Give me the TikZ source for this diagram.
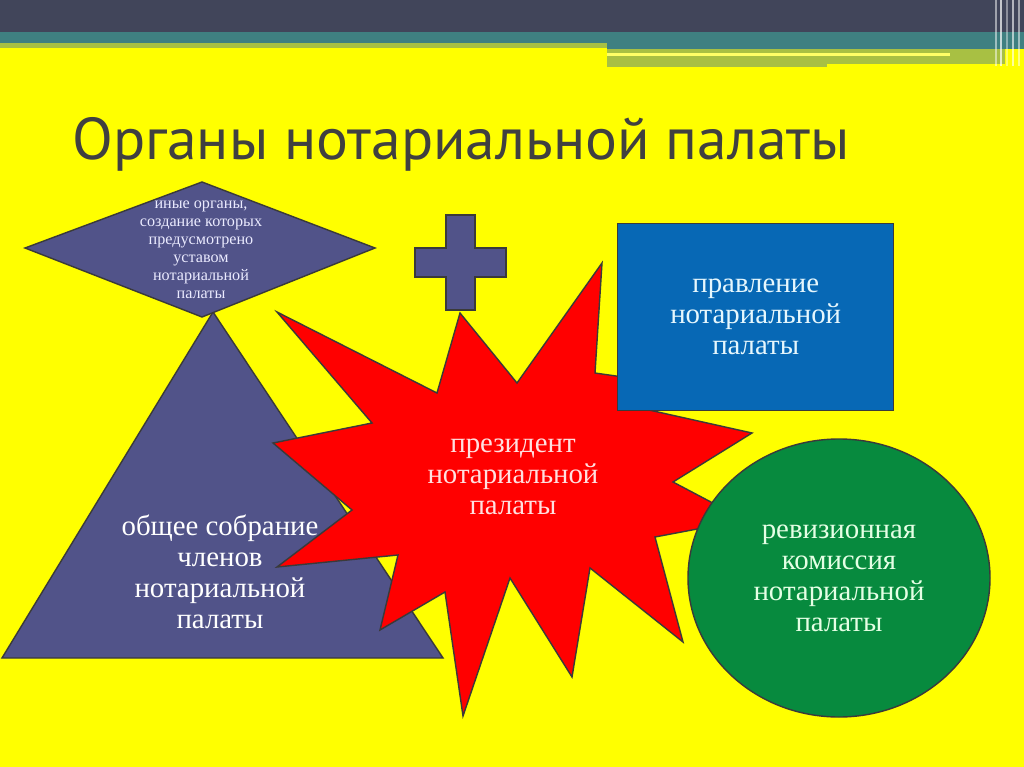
\documentclass[tikz,border=0pt]{standalone}
\usepackage{fontspec}
\setmainfont{Liberation Serif}
\newfontfamily\titlefont{PT Sans}
\usepackage{tikz}
\usetikzlibrary{positioning,shapes.geometric}

\definecolor{bgyellow}{HTML}{FFFF00}
\definecolor{bardark}{HTML}{41455A}
\definecolor{barteal}{HTML}{3F8081}
\definecolor{barolive}{HTML}{A8C043}
\definecolor{slate}{HTML}{515389}
\definecolor{boardblue}{HTML}{0768B5}
\definecolor{auditgreen}{HTML}{078A3E}
\definecolor{edgegray}{HTML}{3A3A3A}
\definecolor{titlegray}{HTML}{404040}

\begin{document}
\begin{tikzpicture}[x=0.025cm,y=-0.025cm,
		outl/.style={draw=edgegray,line width=1pt,line join=miter},
		txt/.style={align=center,font=\fontsize{20.5}{22}\selectfont,inner sep=0pt}]
		% background and top bar
		\fill[bgyellow] (0,0) rectangle (1024,767);
		\useasboundingbox (0,0) rectangle (1024,767);
		\fill[bardark] (0,0) rectangle (1024,32);
		\fill[barteal] (0,32) rectangle (1024,43);
		\fill[barteal] (607,43) rectangle (1024,49);
		\fill[barolive] (0,43) rectangle (607,48);
		\fill[barolive] (607,49) rectangle (1005,64);
		\fill[barolive] (607,64) rectangle (827,67);
		\fill[bgyellow!60!white] (607,53) rectangle (950,56);
		\foreach \x/\o in {995/0.5,1000/0.7,1006/0.4,1012/0.6,1018/0.5}
			\fill[white,opacity=\o] (\x,0) rectangle ++(2,66);

		% title
		\node(title) [anchor=base west,inner sep=0pt,text=titlegray] at (72,160)
			{\scalebox{1.01}[1]{\titlefont\fontsize{42}{44}\selectfont Органы нотариальной палаты}};

		% triangle: general meeting
		\draw[outl,fill=slate] (213,312) -- (443,658) -- (2,658) -- cycle;
		\node(meeting) [txt,text=white] at (220,572)
			{общее собрание\\членов\\нотариальной\\палаты};

		% diamond: other bodies
		\draw[outl,fill=slate] (202,182) -- (375,248) -- (202,317) -- (25,248) -- cycle;
		\node(other) [txt,text=white!92!blue,font=\fontsize{11.5}{12.8}\selectfont] at (201,250)
			{иные органы,\\создание которых\\предусмотрено\\уставом\\нотариальной\\палаты};

		% plus sign
		\draw[outl,fill=slate] (446,215) -- (475,215) -- (475,248) -- (506,248)
			-- (506,277) -- (475,277) -- (475,310) -- (446,310) -- (446,277)
			-- (415,277) -- (415,248) -- (446,248) -- cycle;

		% star: president
		\draw[outl,fill=red] (277,312) -- (437,393) -- (460,313) -- (517,383)
			-- (602,263) -- (595,373) -- (700,388) -- (640,408) -- (752,433)
			-- (673,482) -- (745,520) -- (655,537) -- (683,642) -- (590,568)
			-- (572,677) -- (510,578) -- (463,716) -- (445,592) -- (380,630)
			-- (398,555) -- (277,567) -- (352,510) -- (273,443) -- (372,423) -- cycle;
		\node(president) [txt,text=red!12!white] at (513,477)
			{президент\\нотариальной\\палаты};

		% board and audit commission
		\node(board) [outl,fill=boardblue,rectangle,minimum width=276*0.025cm,
			minimum height=187*0.025cm,anchor=north west] at (617,223) {};
		\node(boardtext) [txt,text=white!90!cyan] at (board.center) {правление\\нотариальной\\палаты};
		\node(audit) [outl,fill=auditgreen,ellipse,minimum width=302*0.025cm,
			minimum height=278*0.025cm] at (839,578) {};
		\node(audittext) [txt,text=white!90!green] at (audit.center) {ревизионная\\комиссия\\нотариальной\\палаты};
	\end{tikzpicture}
\end{document}
